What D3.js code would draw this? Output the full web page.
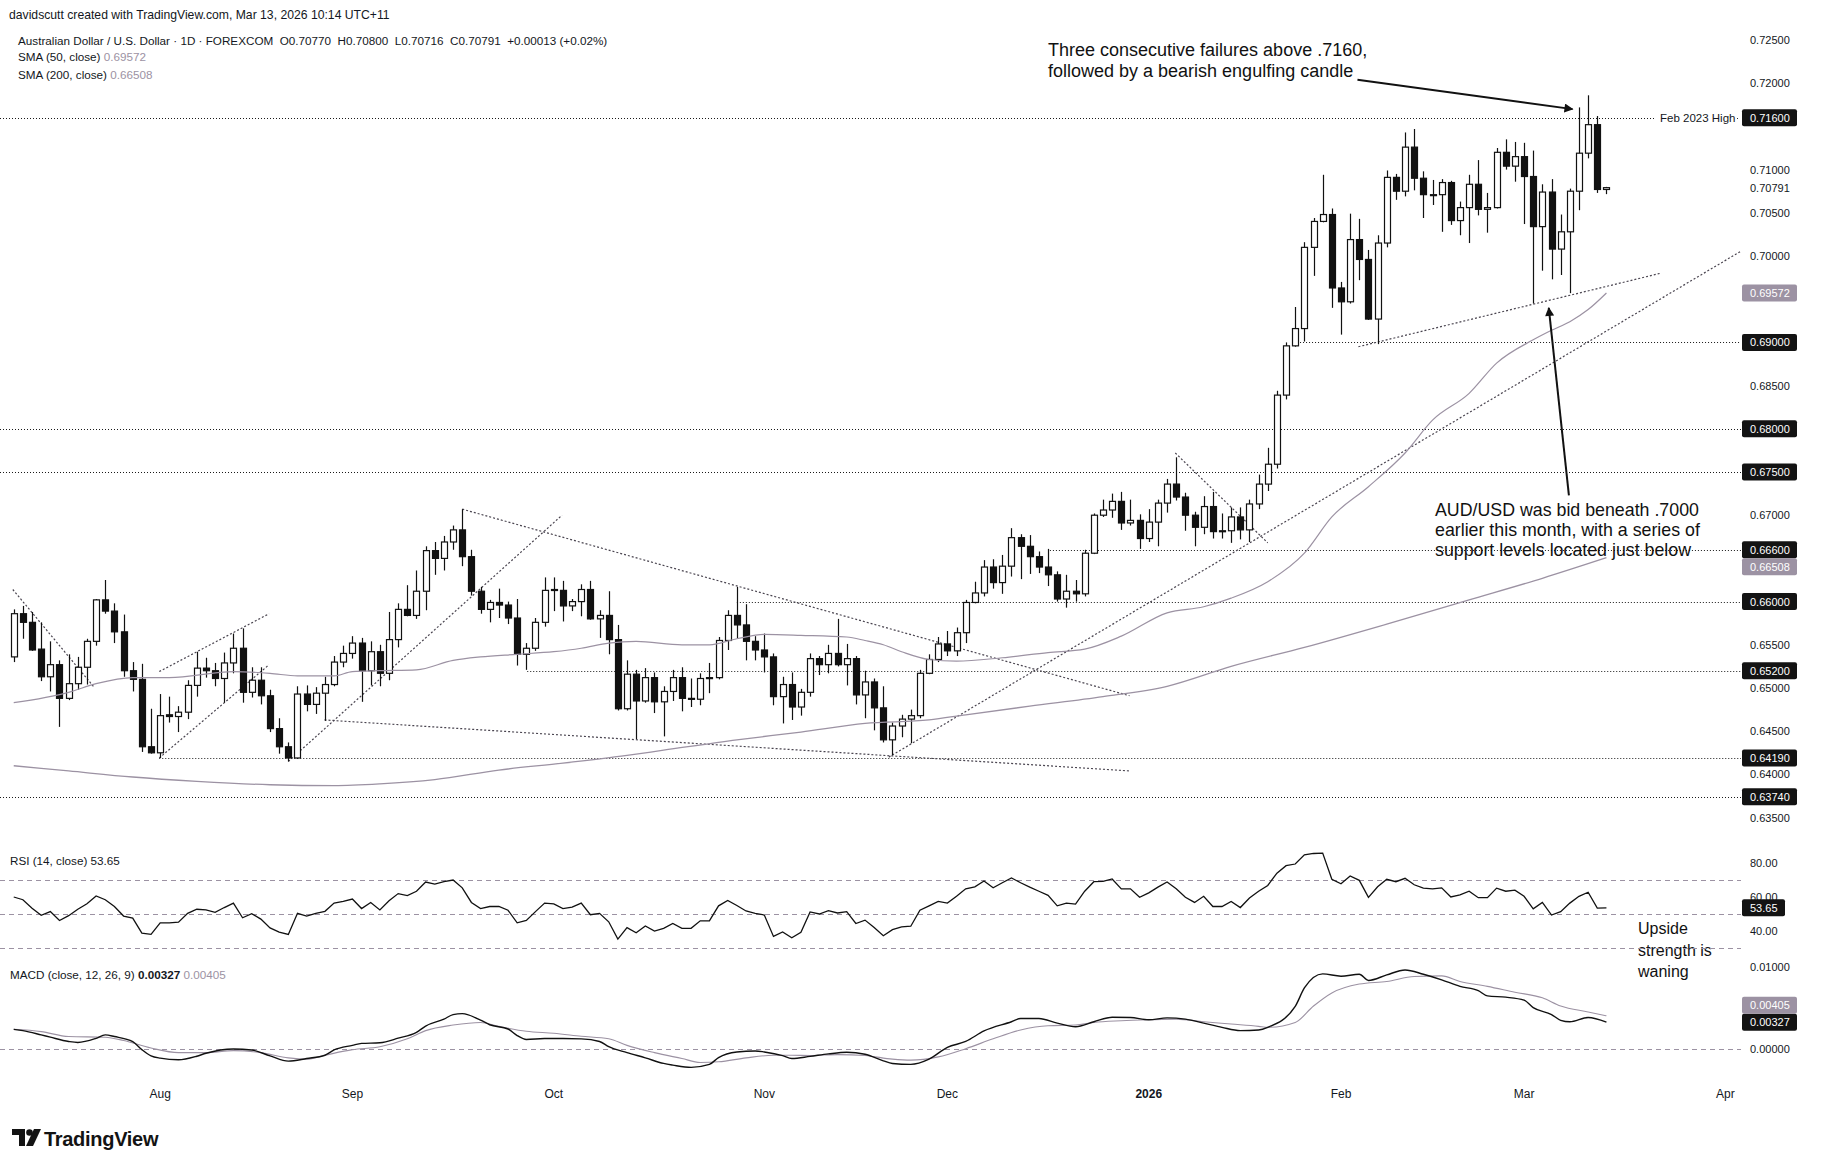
<!DOCTYPE html>
<html>
<head>
<meta charset="utf-8">
<script src="https://cdn.jsdelivr.net/npm/d3@7"></script>
<style>
  html, body { margin: 0; padding: 0; background: #fff; }
  svg { display: block; font-family: "Liberation Sans", Arial, sans-serif; }
</style>
</head>
<body>
<svg id="chart" width="1835" height="1168"></svg>
<script>
// ---- calendar ----
const firstDay = "2025-07-10";
const lastAxisDay = "2026-04-01";
const holidays = ["2025-12-25", "2026-01-01"];
const monthKeys = ["2025-08", "2025-09", "2025-10", "2025-11", "2025-12", "2026-01", "2026-02", "2026-03", "2026-04"];
const monthLabels = ["Aug", "Sep", "Oct", "Nov", "Dec", "2026", "Feb", "Mar", "Apr"];

// ---- daily OHLC, AUD/USD (one value per trading day from Jul 10 2025) ----
const opens = [
  .6536,.6586,.6576,.6545,.6513,.6527,.6488,.6505,.6524,.6554,
  .6602,.6589,.6565,.6520,.6510,.6432,.6425,.6469,.6467,.6472,
  .6503,.6523,.6520,.6511,.6529,.6546,.6495,.6509,.6491,.6453,
  .6432,.6419,.6493,.6481,.6494,.6504,.6530,.6540,.6552,.6520,
  .6542,.6517,.6556,.6591,.6584,.6612,.6659,.6650,.6669,.6683,
  .6652,.6612,.6591,.6599,.6596,.6581,.6539,.6546,.6576,.6613,
  .6613,.6595,.6600,.6614,.6580,.6584,.6556,.6476,.6516,.6485,
  .6512,.6484,.6496,.6512,.6488,.6487,.6511,.6512,.6555,.6584,
  .6573,.6554,.6544,.6536,.6490,.6504,.6478,.6495,.6534,.6527,
  .6540,.6527,.6534,.6492,.6507,.6477,.6440,.6456,.6464,.6468,
  .6517,.6533,.6551,.6543,.6564,.6599,.6610,.6640,.6622,.6641,
  .6674,.6664,.6652,.6640,.6631,.6603,.6612,.6609,.6656,.6700,
  .6706,.6716,.6691,.6694,.6673,.6692,.6714,.6736,.6721,.6700,
  .6686,.6710,.6681,.6682,.6698,.6683,.6713,.6736,.6759,.6839,
  .6896,.6916,.7010,.7040,.7048,.6963,.6947,.7019,.6996,.6927,
  .7015,.7091,.7075,.7126,.7090,.7071,.7071,.7085,.7041,.7056,
  .7083,.7054,.7056,.7120,.7104,.7115,.7092,.7034,.7074,.7008,
  .7028,.7075,.7119,.7152,.70770
];
const highs = [
  .6591,.6595,.6588,.6576,.6554,.6532,.6539,.6536,.6557,.6603,
  .6625,.6598,.6585,.6530,.6528,.6476,.6493,.6490,.6479,.6509,
  .6542,.6535,.6529,.6541,.6563,.6569,.6524,.6524,.6498,.6465,
  .6437,.6502,.6503,.6501,.6513,.6537,.6549,.6560,.6558,.6554,
  .6550,.6588,.6598,.6619,.6636,.6664,.6669,.6676,.6688,.6707,
  .6660,.6617,.6602,.6615,.6600,.6603,.6552,.6581,.6628,.6628,
  .6624,.6603,.6620,.6624,.6590,.6612,.6573,.6532,.6521,.6523,
  .6518,.6502,.6521,.6524,.6511,.6517,.6529,.6559,.6590,.6617,
  .6597,.6560,.6563,.6540,.6513,.6518,.6499,.6540,.6537,.6550,
  .6580,.6551,.6537,.6520,.6511,.6502,.6460,.6469,.6475,.6521,
  .6539,.6559,.6566,.6570,.6602,.6623,.6648,.6649,.6654,.6685,
  .6678,.6677,.6658,.6661,.6635,.6631,.6625,.6660,.6702,.6718,
  .6725,.6727,.6718,.6701,.6707,.6718,.6742,.6767,.6726,.6704,
  .6722,.6727,.6702,.6709,.6709,.6718,.6747,.6778,.6844,.6900,
  .6941,.7016,.7044,.7094,.7055,.6970,.7049,.7043,.7007,.7024,
  .7099,.7095,.7143,.7147,.7098,.7088,.7089,.7087,.7063,.7094,
  .7111,.7073,.7125,.7135,.7132,.7131,.7122,.7083,.7089,.7048,
  .7078,.7172,.7186,.7162,.70800
];
const lows = [
  .6530,.6557,.6543,.6508,.6496,.6455,.6486,.6498,.6504,.6549,
  .6586,.6552,.6513,.6496,.6426,.6424,.6419,.6460,.6449,.6464,
  .6490,.6512,.6502,.6483,.6517,.6483,.6489,.6481,.6449,.6424,
  .6415,.6418,.6473,.6470,.6462,.6502,.6524,.6534,.6484,.6503,
  .6502,.6509,.6547,.6583,.6580,.6590,.6631,.6636,.6660,.6641,
  .6607,.6586,.6576,.6581,.6574,.6526,.6521,.6543,.6571,.6589,
  .6577,.6589,.6583,.6579,.6558,.6539,.6474,.6474,.6441,.6483,
  .6471,.6444,.6485,.6473,.6478,.6480,.6494,.6510,.6544,.6557,
  .6532,.6532,.6518,.6480,.6459,.6463,.6468,.6490,.6515,.6517,
  .6525,.6503,.6481,.6465,.6451,.6437,.6422,.6443,.6436,.6465,
  .6516,.6530,.6537,.6537,.6552,.6598,.6606,.6615,.6609,.6629,
  .6626,.6632,.6633,.6618,.6600,.6593,.6600,.6606,.6655,.6698,
  .6697,.6683,.6688,.6661,.6669,.6664,.6703,.6717,.6682,.6664,
  .6678,.6673,.6673,.6668,.6672,.6669,.6707,.6728,.6754,.6834,
  .6895,.6901,.6977,.7039,.6940,.6909,.6945,.6972,.6926,.6898,
  .7010,.7065,.7069,.7076,.7044,.7059,.7028,.7036,.7024,.7015,
  .7047,.7027,.7055,.7100,.7086,.7037,.6945,.6983,.6973,.6978,
  .6957,.7053,.7113,.7073,.70716
];
const closes = [
  .6586,.6576,.6544,.6513,.6527,.6488,.6505,.6524,.6554,.6602,
  .6589,.6565,.6520,.6510,.6432,.6425,.6468,.6467,.6472,.6503,
  .6523,.6520,.6511,.6529,.6546,.6495,.6509,.6491,.6453,.6432,
  .6419,.6493,.6481,.6494,.6504,.6530,.6540,.6552,.6520,.6542,
  .6517,.6556,.6591,.6584,.6612,.6659,.6650,.6669,.6683,.6652,
  .6612,.6591,.6599,.6596,.6581,.6539,.6546,.6576,.6613,.6614,
  .6595,.6600,.6614,.6580,.6584,.6556,.6476,.6516,.6485,.6512,
  .6484,.6496,.6512,.6488,.6487,.6511,.6512,.6555,.6584,.6573,
  .6554,.6544,.6536,.6490,.6504,.6478,.6495,.6534,.6527,.6540,
  .6527,.6534,.6492,.6507,.6477,.6440,.6456,.6464,.6468,.6517,
  .6533,.6551,.6543,.6564,.6599,.6610,.6640,.6622,.6641,.6674,
  .6664,.6652,.6640,.6631,.6603,.6612,.6609,.6656,.6700,.6706,
  .6716,.6691,.6694,.6673,.6692,.6714,.6736,.6721,.6700,.6686,
  .6710,.6681,.6682,.6698,.6683,.6713,.6736,.6759,.6839,.6896,
  .6916,.7010,.7040,.7048,.6963,.6947,.7019,.6996,.6927,.7015,
  .7091,.7075,.7126,.7090,.7071,.7071,.7085,.7041,.7056,.7083,
  .7054,.7056,.7120,.7104,.7115,.7092,.7034,.7074,.7008,.7028,
  .7075,.7119,.7152,.7077,.70791
];

// ---- moving averages, read at sample bars ----
const sma50Bars = [0,6,9,13,17,24,28,31,35,37,40,44,48,51,55,59,62,65,68,73,76,79,82,86,91,93,95,97,100,103,108,113,117,121,126,130,133,137,141,144,148,152,155,159,162,166,168,170,172,174];
const sma50Values = [.6483,.6495,.6505,.6512,.6512,.6519,.6517,.6514,.6514,.6519,.6520,.6521,.6532,.6536,.6539,.6542,.6546,.6552,.6554,.6550,.6550,.6557,.6562,.6561,.6559,.6555,.6550,.6542,.6533,.6531,.6535,.6541,.6545,.6560,.6587,.6594,.6604,.6623,.6656,.6698,.6733,.6772,.6810,.6841,.6876,.6903,.6914,.6924,.6938,.69572];
const sma200Bars = [0,6,13,20,28,35,40,46,53,60,67,71,79,86,93,100,104,111,119,126,133,141,150,159,167,174];
const sma200Values = [.6410,.6404,.6397,.6392,.6388,.6387,.6389,.6394,.6405,.6413,.6422,.6428,.6440,.6449,.6459,.6463,.6469,.6479,.6490,.6502,.6525,.6547,.6574,.6602,.6627,.66508];

// ---- RSI (14), one value per bar ----
const rsiValues = [
  60,58.4,53.4,49.2,51.4,46.2,49,52.8,56,60.6,
  58.4,54.4,48.8,47.6,38.8,38,44.8,44.8,45.2,50.4,
  52.8,52.4,51,53.8,56.4,47.8,50.2,47,41.8,39.4,
  38,50.4,48.8,50.4,51.6,56.4,57.4,58.8,53.2,56.8,
  52.4,57.8,62,60.8,63.4,68.8,67.6,69,70,65.4,
  56.8,53.2,54.4,54.4,52.2,44.8,46.2,51.4,56.4,56,
  53.2,54,56.4,49.6,50.4,45.4,35.2,42,39,43,
  40,41.6,44.4,41.6,41.6,46,46,54.8,58,55,
  51.8,50.4,49.4,36.8,39.4,36,39.2,51.2,50,52,
  50.6,51.4,44.4,46.4,42,37.2,40.8,42.4,42.8,52.2,
  54.8,57.4,56.4,60.4,64.8,66,69.4,65.4,68.4,71.2,
  68.4,65.8,63.4,61,54.8,56.4,55.8,63.4,69,69.2,
  70.6,64.8,64.8,59.8,62.4,65.8,68.8,64.8,59.8,56.8,
  60.4,54.4,54.4,57.4,53.8,59.4,63.4,66.8,74,78.4,
  79.4,84.8,85.6,85.8,70.4,67.8,72.4,69.8,59.8,66,
  70.4,69,71,67.2,65.2,64.8,65.4,60,61.2,63.4,
  59.6,59.6,65.2,63.4,64,60.4,53,56.8,49.4,51.4,
  56.4,60.4,62.8,53.5,53.65
];

// ---- MACD (12, 26, 9), read at sample bars ----
const macdBars = [0,1,3,4,6,7,9,10,11,13,14,15,16,18,20,21,24,26,28,30,32,34,35,37,38,40,42,44,45,47,48,49,51,52,54,55,56,58,60,62,64,65,67,69,71,72,74,76,77,79,81,82,84,85,87,89,91,93,95,96,98,100,102,104,106,109,110,112,114,116,118,120,122,124,126,128,130,132,134,136,137,140,141,143,145,147,148,150,152,154,156,158,160,161,163,165,166,168,169,170,172,174];
const macdValues = [.0024,.00224,.00172,.00144,.00092,.0008,.0013,.00172,.00152,.0009,-.00008,-.00084,-.00112,-.00132,-.00088,-.00052,0,-.00012,-.00084,-.00148,-.00116,-.00076,-.00012,.00044,.00068,.00076,.00132,.00204,.0028,.00364,.0042,.00432,.00352,.00296,.00244,.00164,.00116,.00128,.00128,.00124,.00092,.00028,-.00044,-.00108,-.00176,-.00196,-.00224,-.00188,-.00104,-.00036,-.00024,-.00036,-.0008,-.00116,-.0009,-.0006,-.0004,-.00064,-.00144,-.00176,-.00188,-.00124,.0002,.00092,.0022,.00332,.00372,.00372,.00316,.00272,.00332,.00388,.00384,.00356,.0038,.00364,.00316,.00264,.00224,.00232,.00264,.0052,.00744,.00916,.00888,.00912,.00836,.00904,.00964,.00912,.00844,.00764,.00712,.00648,.00632,.00596,.00504,.0042,.0035,.00332,.00384,.00327];
const signalBars = [0,3,6,10,12,15,18,21,24,27,30,32,34,37,40,43,45,48,51,53,56,59,62,65,67,70,73,75,77,80,83,85,87,90,93,96,98,101,104,107,110,113,116,118,121,124,127,130,133,136,137,140,142,144,147,150,153,156,158,161,164,167,169,172,174];
const signalValues = [.0024,.00212,.00152,.00144,.00104,.00012,-.00044,-.00044,-.0002,-.00044,-.00108,-.00124,-.00076,-.00008,.00028,.00124,.00224,.00292,.00324,.00276,.00216,.00192,.00156,.00124,.00044,-.00044,-.00116,-.00164,-.00156,-.00108,-.00076,-.00076,-.0008,-.00068,-.0008,-.00124,-.00136,-.00096,.00004,.00124,.00232,.00284,.00292,.00324,.00344,.00356,.00364,.00332,.00304,.00276,.00264,.00324,.00524,.00684,.00792,.00824,.00884,.00892,.00824,.00764,.00692,.00624,.00524,.00452,.00405];

// ---- horizontal levels and drawn lines (bar, price) ----
const levelValues = [0.716, 0.69, 0.68, 0.675, 0.666, 0.66, 0.652, 0.6419, 0.6374];
const levelFromBar = [-1.5, 140.2, -1.5, -1.5, 113.2, 79, 56.1, 15.9, -1.5];
const trendlines = [
  [[-0.1, .6614], [8.7, .6502]],
  [[15.9, .6419], [27.9, .6527]],
  [[15.9, .6519], [27.9, .6586]],
  [[30, .6415], [59.9, .6700]],
  [[49, .6707], [121.9, .6491]],
  [[33.95, .6463], [121.9, .6404]],
  [[95.6, .6420], [188.6, .7005]],
  [[126.9, .6772], [137, .6668]],
  [[146.9, .6895], [179.9, .6980]]
];
const arrows = [
  [[146.8, .7204], [170.3, .7170]],
  [[169.9, .6723], [167.7, .6940]]
];

// ---------------------------------------------------------------
const svg = d3.select("#chart");
const plotRight = 1741;
const ink = "#131722";
const violet = "#9c92a3";

const x = d3.scaleLinear().domain([-1.5, 188.7]).range([0, plotRight]);
const yPrice = d3.scaleLinear().domain([0.635, 0.725]).range([817.6, 40]);
const yRsi = d3.scaleLinear().domain([30, 70]).range([948, 880]);
const yMacd = d3.scaleLinear().domain([0, 0.01]).range([1049, 967]);
const px = v => Math.round(v) + 0.5;
const f5 = d3.format(".5f");

// trading days (weekdays minus holidays)
const parseDay = d3.utcParse("%Y-%m-%d");
const fmtDay = d3.utcFormat("%Y-%m-%d");
const days = d3.utcDay.range(parseDay(firstDay), d3.utcDay.offset(parseDay(lastAxisDay), 1))
  .filter(d => d.getUTCDay() % 6 !== 0 && !holidays.includes(fmtDay(d)));

const candles = closes.map((c, i) => ({
  bar: i, date: days[i], open: opens[i], high: highs[i], low: lows[i], close: c
}));

svg.append("rect").attr("width", 1835).attr("height", 1168).attr("fill", "#fff");

// ---- horizontal levels ----
const gLevels = svg.append("g");
levelValues.forEach((v, k) => {
  const y = px(yPrice(v));
  const x2 = v === 0.716 ? 1655 : plotRight;
  gLevels.append("line")
    .attr("x1", x(levelFromBar[k])).attr("x2", x2)
    .attr("y1", y).attr("y2", y)
    .attr("stroke", "#1a1a1a").attr("stroke-width", 1).attr("stroke-dasharray", "1,2");
});
gLevels.append("text").attr("x", 1660).attr("y", yPrice(0.716) + 4)
  .attr("font-size", 11.5).attr("fill", ink).text("Feb 2023 High");
gLevels.append("rect").attr("x", 1737).attr("y", Math.round(yPrice(0.716))).attr("width", 1).attr("height", 1).attr("fill", "#333");

// ---- trend lines ----
const gTrend = svg.append("g");
trendlines.forEach(t => {
  gTrend.append("line")
    .attr("x1", x(t[0][0])).attr("y1", yPrice(t[0][1]))
    .attr("x2", x(t[1][0])).attr("y2", yPrice(t[1][1]))
    .attr("stroke", "#4a4550").attr("stroke-width", 1.2).attr("stroke-dasharray", "2,2");
});

// ---- candles ----
const gCandles = svg.append("g");
const cg = gCandles.selectAll("g").data(candles).join("g");
cg.append("line")
  .attr("x1", d => px(x(d.bar))).attr("x2", d => px(x(d.bar)))
  .attr("y1", d => yPrice(d.high)).attr("y2", d => yPrice(d.low))
  .attr("stroke", "#111").attr("stroke-width", 1.2);
cg.append("rect")
  .attr("x", d => Math.round(x(d.bar)) - 2.5)
  .attr("width", 6)
  .attr("y", d => yPrice(Math.max(d.open, d.close)))
  .attr("height", d => Math.max(1, Math.abs(yPrice(d.open) - yPrice(d.close))))
  .attr("fill", d => d.close >= d.open ? "#fff" : "#111")
  .attr("stroke", "#111").attr("stroke-width", 1.2);

// ---- SMA lines ----
const smaLine = (bars, vals) => d3.line().curve(d3.curveMonotoneX)
  .x((d, i) => x(bars[i])).y(d => yPrice(d))(vals);
svg.append("path").attr("d", smaLine(sma200Bars, sma200Values))
  .attr("fill", "none").attr("stroke", violet).attr("stroke-width", 1.3);
svg.append("path").attr("d", smaLine(sma50Bars, sma50Values))
  .attr("fill", "none").attr("stroke", violet).attr("stroke-width", 1.2);

// ---- arrows ----
const defs = svg.append("defs");
defs.append("marker").attr("id", "head")
  .attr("viewBox", "0 0 10 10").attr("refX", 9).attr("refY", 5)
  .attr("markerWidth", 5).attr("markerHeight", 4.5).attr("orient", "auto")
  .append("path").attr("d", "M0,0 L10,5 L0,10 z").attr("fill", "#111");
arrows.forEach(a => {
  svg.append("line")
    .attr("x1", x(a[0][0])).attr("y1", yPrice(a[0][1]))
    .attr("x2", x(a[1][0])).attr("y2", yPrice(a[1][1]))
    .attr("stroke", "#111").attr("stroke-width", 2).attr("marker-end", "url(#head)");
});

// ---- annotation texts ----
const note = (lines, x0, y0, lh, size) => {
  const t = svg.append("text").attr("font-size", size).attr("fill", "#111");
  lines.forEach((s, k) => t.append("tspan").attr("x", x0).attr("y", y0 + k * lh).text(s));
};
note(["Three consecutive failures above .7160,", "followed by a bearish engulfing candle"], 1048, 56, 21, 18);
note(["AUD/USD was bid beneath .7000", "earlier this month, with a series of", "support levels located just below"], 1435, 516, 20, 17.8);
note(["Upside", "strength is", "waning"], 1638, 934, 21.5, 16);

// ---- RSI pane ----
const gRsi = svg.append("g");
[70, 50, 30].forEach(v => {
  gRsi.append("line").attr("x1", 0).attr("x2", plotRight)
    .attr("y1", px(yRsi(v))).attr("y2", px(yRsi(v)))
    .attr("stroke", violet).attr("stroke-dasharray", "5,4");
});
gRsi.append("path")
  .attr("d", d3.line().x((d, i) => x(i)).y(d => yRsi(d))(rsiValues))
  .attr("fill", "none").attr("stroke", "#111").attr("stroke-width", 1.3);

// ---- MACD pane ----
const gMacd = svg.append("g");
gMacd.append("line").attr("x1", 0).attr("x2", plotRight)
  .attr("y1", px(yMacd(0))).attr("y2", px(yMacd(0)))
  .attr("stroke", violet).attr("stroke-dasharray", "5,4");
const macdPath = (bars, vals) => d3.line().curve(d3.curveMonotoneX)
  .x((d, i) => x(bars[i])).y(d => yMacd(d))(vals);
gMacd.append("path").attr("d", macdPath(signalBars, signalValues))
  .attr("fill", "none").attr("stroke", violet).attr("stroke-width", 1.1);
gMacd.append("path").attr("d", macdPath(macdBars, macdValues))
  .attr("fill", "none").attr("stroke", "#111").attr("stroke-width", 1.4);

// ---- right axis ----
const gAxis = svg.append("g").attr("font-size", 11).attr("fill", ink);
const boxH = 17;

// boxed value labels, spread apart when they collide
function spread(items, dir) {
  items.sort((a, b) => dir * (a.y - b.y));
  for (let k = 1; k < items.length; k++) {
    const gap = dir * (items[k].y - items[k - 1].y);
    if (gap < boxH) items[k].y = items[k - 1].y + dir * boxH;
  }
  return items;
}
function box(item) {
  const w = item.w || 55;
  gAxis.append("rect").attr("x", 1742).attr("y", item.y - boxH / 2)
    .attr("width", w).attr("height", boxH).attr("rx", 2).attr("fill", item.fill);
  gAxis.append("text").attr("x", 1750).attr("y", item.y + 4).attr("fill", "#fff").text(item.text);
}
const priceBoxes = spread(levelValues.map(v => ({ y: yPrice(v), text: f5(v), fill: "#131313" }))
  .concat([
    { y: yPrice(sma50Values[sma50Values.length - 1]), text: f5(sma50Values[sma50Values.length - 1]), fill: violet },
    { y: yPrice(sma200Values[sma200Values.length - 1]), text: f5(sma200Values[sma200Values.length - 1]), fill: violet }
  ]), 1);

// regular ticks, hidden where a value box sits on top of them
d3.range(0.635, 0.7251, 0.005).forEach(v => {
  const y = yPrice(v);
  if (priceBoxes.some(b => Math.abs(b.y - y) < boxH - 1)) return;
  gAxis.append("text").attr("x", 1750).attr("y", y + 4).text(f5(v));
});
gAxis.append("text").attr("x", 1750).attr("y", yPrice(closes[closes.length - 1]) + 4).text(f5(closes[closes.length - 1]));
[80, 60, 40].forEach(v => {
  gAxis.append("text").attr("x", 1750).attr("y", yRsi(v) + 4).text(v.toFixed(2));
});
[0.01, 0].forEach(v => {
  gAxis.append("text").attr("x", 1750).attr("y", yMacd(v) + 4).text(f5(v));
});

priceBoxes.forEach(box);
box({ y: yRsi(rsiValues[rsiValues.length - 1]), text: rsiValues[rsiValues.length - 1].toFixed(2), fill: "#131313", w: 43 });
spread([
  { y: yMacd(macdValues[macdValues.length - 1]), text: f5(macdValues[macdValues.length - 1]), fill: "#131313" },
  { y: yMacd(signalValues[signalValues.length - 1]), text: f5(signalValues[signalValues.length - 1]), fill: violet }
], -1).forEach(box);

// ---- time axis ----
const gTime = svg.append("g").attr("font-size", 12).attr("fill", ink).attr("text-anchor", "middle");
monthKeys.forEach((m, k) => {
  const bar = days.findIndex(d => fmtDay(d).startsWith(m));
  gTime.append("text").attr("x", x(bar)).attr("y", 1098)
    .attr("font-weight", monthLabels[k] === "2026" ? "bold" : null)
    .text(monthLabels[k]);
});

// ---- legends ----
const gHead = svg.append("g").attr("font-size", 11.7).attr("fill", ink);
gHead.append("text").attr("x", 9).attr("y", 19).attr("font-size", 12.2)
  .text("davidscutt created with TradingView.com, Mar 13, 2026 10:14 UTC+11");
const last = candles[candles.length - 1];
gHead.append("text").attr("x", 18).attr("y", 45).attr("xml:space", "preserve")
  .text("Australian Dollar / U.S. Dollar · 1D · FOREXCOM  O" + f5(last.open) + "  H" + f5(last.high) +
        "  L" + f5(last.low) + "  C" + f5(last.close) + "  +0.00013 (+0.02%)");
const sma50Txt = gHead.append("text").attr("x", 18).attr("y", 61).text("SMA (50, close)  ");
sma50Txt.append("tspan").attr("fill", violet).text(f5(sma50Values[sma50Values.length - 1]));
const sma200Txt = gHead.append("text").attr("x", 18).attr("y", 79).text("SMA (200, close)  ");
sma200Txt.append("tspan").attr("fill", violet).text(f5(sma200Values[sma200Values.length - 1]));
gHead.append("text").attr("x", 10).attr("y", 865).text("RSI (14, close)  " + rsiValues[rsiValues.length - 1].toFixed(2));
const macdTxt = gHead.append("text").attr("x", 10).attr("y", 979).text("MACD (close, 12, 26, 9)  ");
macdTxt.append("tspan").attr("font-weight", "bold").text(f5(macdValues[macdValues.length - 1]) + "  ");
macdTxt.append("tspan").attr("fill", violet).text(f5(signalValues[signalValues.length - 1]));

// ---- TradingView mark ----
const logo = svg.append("g").attr("fill", "#131313");
logo.append("path").attr("d", "M12,1129 h13 v17 h-6 v-11 h-7 z");
logo.append("circle").attr("cx", 29.5).attr("cy", 1132.5).attr("r", 3.3);
logo.append("path").attr("d", "M34,1129 h7 l-8,17 h-7 z");
logo.append("text").attr("x", 44).attr("y", 1146).attr("font-size", 20).attr("font-weight", "bold")
  .attr("letter-spacing", -0.3).text("TradingView");
</script>
</body>
</html>
